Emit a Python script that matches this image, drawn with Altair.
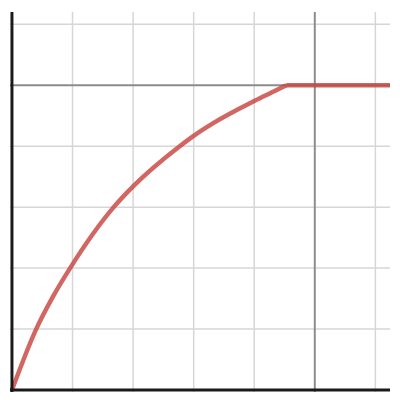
import altair as alt
import pandas as pd

# curve values
curve_x = [0.0, 0.4, 0.67, 0.96, 1.68, 2.0, 2.77, 3.0, 3.31, 4.0, 4.37, 4.53]
curve_y = [0.0, 1.0, 1.52, 2.0, 3.0, 3.34, 4.0, 4.17, 4.37, 4.74, 4.92, 5.0]
flat_x = [4.53, 6.5]
flat_y = [5.0, 5.0]

minor_grid = [1, 2, 3, 4, 6]
major_grid = [5]
axis_pos = [0]

xs = alt.Scale(domain=[-0.0327, 6.242], nice=False, zero=False)
ys = alt.Scale(domain=[-0.0325, 6.201], nice=False, zero=False)

curve_df = pd.DataFrame({"x": curve_x, "y": curve_y})
flat_df = pd.DataFrame({"x": flat_x, "y": flat_y})
minor_df = pd.DataFrame({"v": minor_grid})
major_df = pd.DataFrame({"v": major_grid})
axis_df = pd.DataFrame({"v": axis_pos})

def vrules(df, color, width):
    return alt.Chart(df).mark_rule(color=color, strokeWidth=width).encode(
        x=alt.X("v:Q", scale=xs, axis=None))

def hrules(df, color, width):
    return alt.Chart(df).mark_rule(color=color, strokeWidth=width).encode(
        y=alt.Y("v:Q", scale=ys, axis=None))

curve = alt.Chart(curve_df).mark_line(
    color="#c74440", opacity=0.82, strokeWidth=4.5, interpolate="monotone", clip=True
).encode(x=alt.X("x:Q", scale=xs, axis=None), y=alt.Y("y:Q", scale=ys, axis=None))

flat = alt.Chart(flat_df).mark_line(
    color="#c74440", opacity=0.82, strokeWidth=4.5, clip=True
).encode(x=alt.X("x:Q", scale=xs, axis=None), y=alt.Y("y:Q", scale=ys, axis=None))

chart = alt.layer(
    vrules(minor_df, "#d6d6d6", 1.5),
    hrules(minor_df, "#d6d6d6", 1.5),
    vrules(major_df, "#8c8c8c", 2),
    hrules(major_df, "#8c8c8c", 2),
    curve,
    flat,
    vrules(axis_df, "#1a1a1a", 3),
    hrules(axis_df, "#1a1a1a", 3),
).properties(width=384, height=384, padding=0).configure_view(stroke=None)

chart.save("out.html", embed_options={"renderer": "svg", "actions": False})
